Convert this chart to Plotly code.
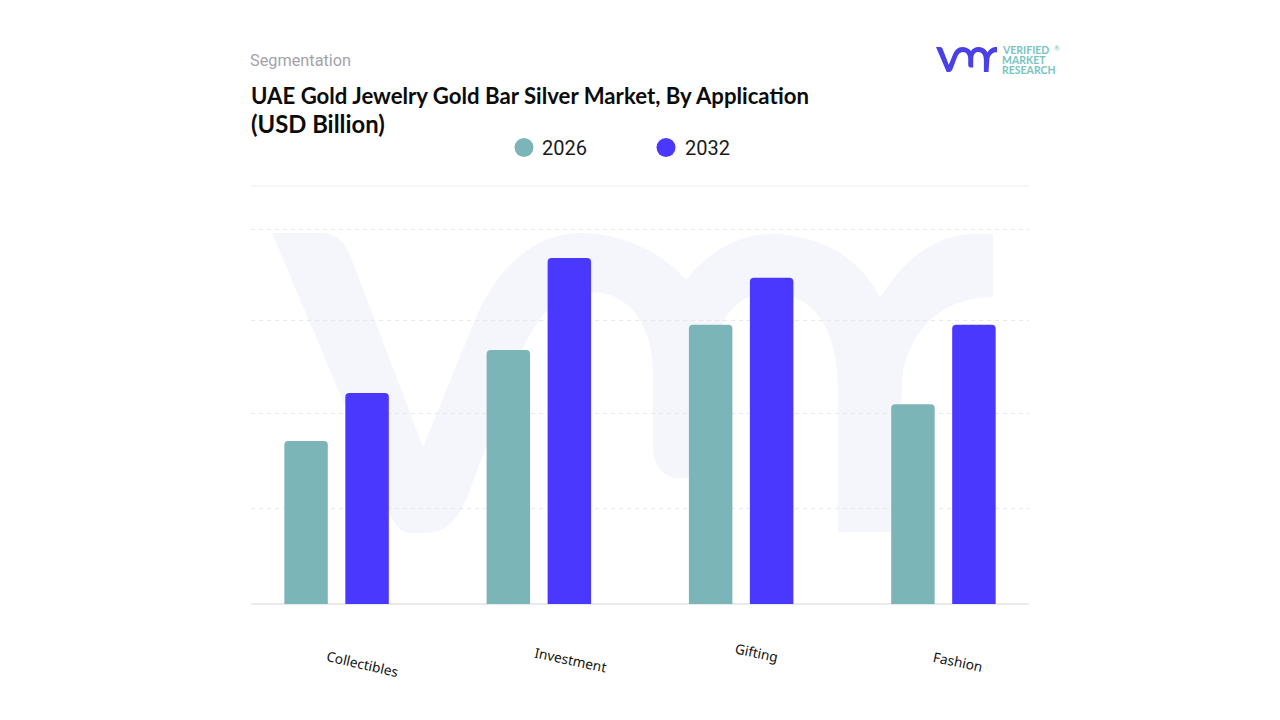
import plotly.graph_objects as go

categories = ["Collectibles", "Investment", "Gifting", "Fashion"]
values_2026 = [1.74, 2.71, 2.98, 2.13]
values_2032 = [2.25, 3.69, 3.48, 2.98]
grid_values = [1.024, 2.027, 3.02, 4.0]
years = ["2026", "2032"]
TEAL = "#7CB5B8"
BLUE = "#4B38FF"

W, H = 1280, 720
L, R, T, B = 251, 1029, 186, 604
px = lambda x: (x - L) / (R - L)
py = lambda y: (B - y) / (B - T)

# brand mark outline, in page pixels: (command, points)
MARK = [
    ("M", [(272, 233)]), ("L", [(322, 233)]),
    ("C", [(337, 233), (347, 245), (352, 260)]),
    ("L", [(423, 447)]), ("L", [(477, 315)]),
    ("C", [(500, 265), (535, 234), (580, 233)]),
    ("C", [(620, 233), (660, 250), (686, 280)]),
    ("C", [(705, 255), (735, 235), (770, 234)]),
    ("C", [(815, 234), (860, 255), (880, 298)]),
    ("C", [(900, 265), (930, 235), (975, 234)]),
    ("L", [(993, 234)]), ("L", [(993, 297)]),
    ("C", [(950, 297), (915, 320), (903, 370)]),
    ("L", [(893, 532)]), ("L", [(838, 532)]), ("L", [(838, 390)]),
    ("C", [(838, 330), (815, 293), (770, 293)]),
    ("C", [(735, 293), (715, 320), (712, 370)]),
    ("L", [(712, 478)]), ("L", [(680, 478)]),
    ("C", [(662, 478), (653, 465), (653, 445)]),
    ("L", [(653, 375)]),
    ("C", [(653, 325), (630, 292), (590, 292)]),
    ("C", [(555, 292), (535, 320), (520, 355)]),
    ("L", [(470, 490)]),
    ("C", [(460, 515), (450, 533), (425, 533)]),
    ("L", [(410, 533)]),
    ("C", [(398, 533), (392, 520), (387, 505)]),
]


def mark_path(fx, fy):
    out = []
    for cmd, pts in MARK:
        out.append(cmd + " ".join(f"{px(fx(x)):.5f},{py(fy(y)):.5f}" for x, y in pts))
    return " ".join(out) + " Z"


fig = go.Figure()
for name, vals, col in zip(years, [values_2026, values_2032], [TEAL, BLUE]):
    fig.add_trace(go.Bar(name=name, x=categories, y=vals, marker=dict(color=col, line=dict(width=0)), showlegend=False))

shapes = [
    dict(type="path", xref="paper", yref="paper", layer="below", line=dict(width=0), fillcolor="#F4F6FC",
         path=mark_path(lambda x: x, lambda y: y)),
    dict(type="path", xref="paper", yref="paper", layer="above", line=dict(width=0), fillcolor="#4B3FE8",
         path=mark_path(lambda x: 936 + (x - 272) * 61 / 721, lambda y: 47 + (y - 233) * 25 / 300)),
    dict(type="line", xref="paper", yref="paper", x0=0, x1=1, y0=1, y1=1, layer="below", line=dict(color="#EBEBEF", width=1)),
    dict(type="line", xref="paper", yref="paper", x0=0, x1=1, y0=0, y1=0, layer="below", line=dict(color="#E9EAEE", width=2)),
]
for cx, col in [(524, TEAL), (666, BLUE)]:
    shapes.append(dict(type="circle", xref="paper", yref="paper", layer="above", line=dict(width=0), fillcolor=col,
                       x0=px(cx - 9.5), x1=px(cx + 9.5), y0=py(157), y1=py(138)))


def text(s, x, y, size, color, family, anchor="left", angle=0):
    return dict(text=s, xref="paper", yref="paper", x=px(x), y=py(y), xanchor=anchor, yanchor="middle",
                showarrow=False, textangle=angle, borderpad=0, borderwidth=0,
                font=dict(size=size, color=color, family=family))


annotations = [
    text("Segmentation", 250, 60, 16.3, "#A3A3A9", "Roboto"),
    text("<b>UAE Gold Jewelry Gold Bar Silver Market, By Application</b>", 251, 95, 22.2, "#0B0B0B", "Lato"),
    text("<b>(USD Billion)</b>", 251, 124, 23.8, "#0B0B0B", "Lato"),
    text(years[0], 542, 147.5, 20, "#1A1A1A", "Roboto"),
    text(years[1], 685, 148.5, 20, "#1A1A1A", "Roboto"),
    text("<b>VERIFIED</b>", 1002, 50.5, 10.5, "#78C4BF", "Lato"),
    text("<b>MARKET</b>", 1002, 60, 10.5, "#78C4BF", "Lato"),
    text("<b>RESEARCH</b>", 1002, 69.5, 10.5, "#78C4BF", "Lato"),
    text("®", 1057, 48, 7, "#78C4BF", "Lato", anchor="center"),
]
for cat, x, y, ang in zip(categories, [362, 570, 757, 958], [663.5, 659.5, 652, 661], [13, 12, 12, 12]):
    annotations.append(text(cat, x, y, 13.7, "#111111", "Noto Sans", anchor="center", angle=ang))

fig.update_layout(
    width=W, height=H, autosize=False,
    margin=dict(l=L, r=W - R, t=T, b=H - B, pad=0),
    paper_bgcolor="white", plot_bgcolor="rgba(0,0,0,0)",
    barmode="group", bargap=0.397, bargroupgap=0.287, barcornerradius=4,
    shapes=shapes, annotations=annotations, showlegend=False,
    xaxis=dict(range=[-0.423, 3.423], showticklabels=False, ticks="", showgrid=False, zeroline=False, showline=False),
    yaxis=dict(range=[0, 4.459], tickmode="array", tickvals=grid_values, showticklabels=False, ticks="", showgrid=True,
               gridcolor="#E7E7EC", griddash="4px,4px", gridwidth=1, zeroline=False, showline=False),
)

fig.write_html("out.html", config=dict(displayModeBar=False),
               post_script="document.body.style.margin='0';")
